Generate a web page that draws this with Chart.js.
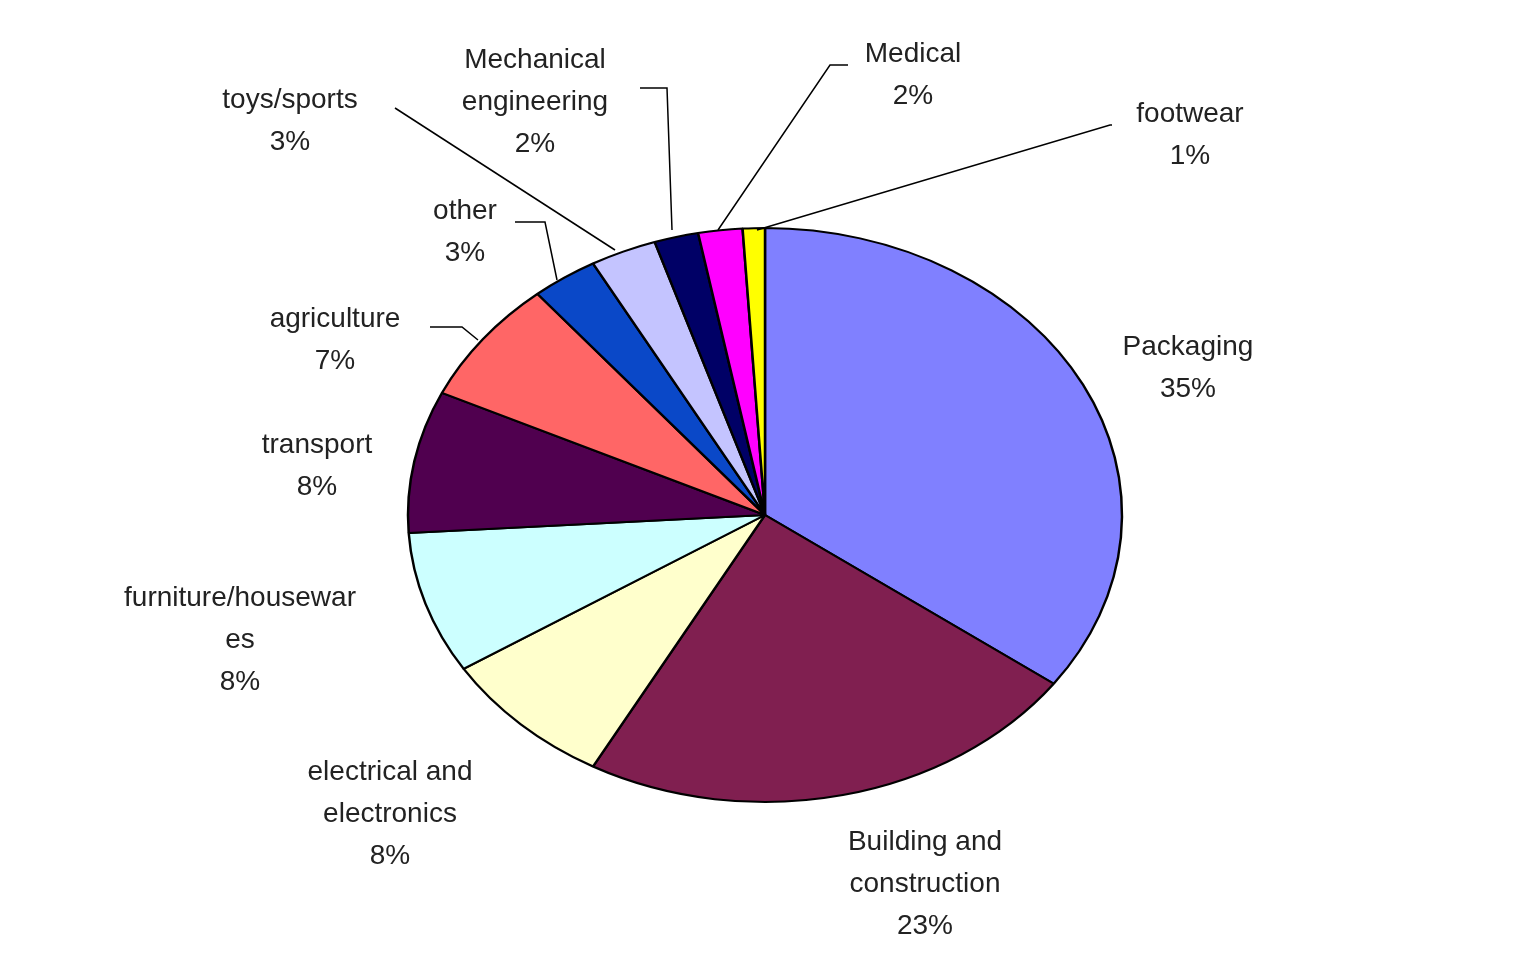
<!DOCTYPE html>
<html><head><meta charset="utf-8">
<script src="https://cdn.jsdelivr.net/npm/chart.js@4/dist/chart.umd.min.js"></script>
<style>html,body{margin:0;background:#fff}#wrap{width:1516px;height:970px}</style>
</head><body><div id="wrap"><canvas id="c"></canvas></div>
<script>
const categories = ["Packaging","Building and construction","electrical and electronics","furniture/housewares","transport","agriculture","other","toys/sports","Mechanical engineering","Medical","footwear"];
const values = [35,23,8,8,8,7,3,3,2,2,1];
const colors = ["#8080FF","#801F50","#FFFFCC","#CCFFFF","#50004F","#FF6666","#0A48C8","#C4C4FF","#000066","#FF00FF","#FFFF00"];
const labelLines = [["Packaging"],["Building and","construction"],["electrical and","electronics"],["furniture/housewar","es"],["transport"],["agriculture"],["other"],["toys/sports"],["Mechanical","engineering"],["Medical"],["footwear"]];
// layout: label center x, top y, and leader polyline
const layout = [
 {x:1188,y:333,l:null},{x:925,y:828,l:null},{x:390,y:758,l:null},{x:240,y:584,l:null},
 {x:317,y:431,l:null},{x:335,y:305,l:[[478,340],[462,327],[430,327]]},
 {x:465,y:197,l:[[557,280],[545,222],[515,222]]},{x:290,y:86,l:[[615,250],[395,108]]},
 {x:535,y:46,l:[[672,230],[667,88],[640,88]]},{x:913,y:40,l:[[718,230],[830,65],[848,65]]},
 {x:1190,y:100,l:[[757,230],[1110,125],[1112,125]]}
];
const SX = 357/287;
const stretch = {
 id:'stretch',
 beforeDatasetsDraw(ch){const a=ch.getDatasetMeta(0).data[0];const c=ch.ctx;c.save();c.translate(a.x,a.y);c.scale(SX,1);c.translate(-a.x,-a.y);},
 afterDatasetsDraw(ch){const c=ch.ctx;c.restore();
  c.save();c.strokeStyle="#000";c.lineWidth=1.5;c.fillStyle="#222";c.font="28px 'Liberation Sans', Arial, sans-serif";c.textAlign="center";c.textBaseline="top";
  values.forEach((v,i)=>{const L=layout[i];
   if(L.l){c.beginPath();L.l.forEach((p,j)=>j?c.lineTo(p[0],p[1]):c.moveTo(p[0],p[1]));c.stroke();}
   const lines=labelLines[i].concat([v+"%"]);
   lines.forEach((t,k)=>c.fillText(t,L.x,L.y+k*42));
  });c.restore();}
};
new Chart(document.getElementById('c'),{
 type:'pie',
 data:{labels:categories,datasets:[{data:values,backgroundColor:colors,borderColor:"#000",borderWidth:2}]},
 options:{responsive:true,maintainAspectRatio:false,animation:false,
  layout:{padding:{top:227,bottom:167,left:314,right:300}},
  plugins:{legend:{display:false},tooltip:{enabled:false}}},
 plugins:[stretch]
});
</script></body></html>
